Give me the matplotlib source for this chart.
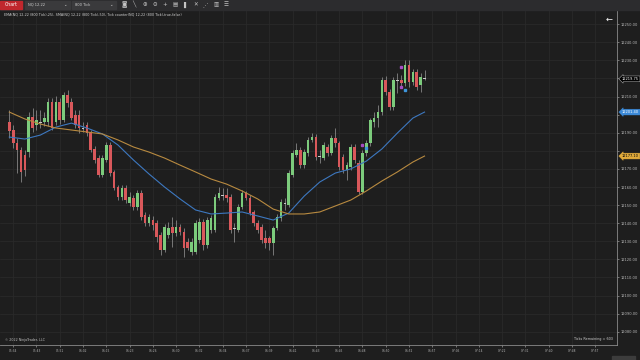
import numpy as np
import matplotlib.pyplot as plt
from matplotlib.patches import Rectangle

# NQ 12-22, 800 tick bars
opens = [12196, 12191.5, 12184.25, 12180.5, 12177.75, 12179.25, 12198.75, 12194.25, 12195.5, 12196,
         12196, 12207, 12196, 12207, 12197, 12210.75, 12207, 12199.75, 12199.75, 12192.5,
         12194.25, 12190.5, 12181, 12176, 12166.5, 12175, 12183.25, 12168.25, 12160, 12154.5,
         12159.5, 12151.25, 12154, 12149, 12156.75, 12144.5, 12140, 12141.75, 12140, 12133.5,
         12125.25, 12133.5, 12138, 12134.5, 12138, 12135, 12129.5, 12124, 12124, 12130.75,
         12140.75, 12128, 12136.25, 12136.25, 12154, 12155.25, 12155.5, 12154.5, 12137, 12136.25,
         12149, 12156.75, 12154, 12146.25, 12140, 12138, 12131.75, 12131.75, 12129, 12137.25,
         12142.75, 12151, 12150, 12166.5, 12177.75, 12180.5, 12172, 12178.75, 12186, 12187.5,
         12177, 12176, 12182, 12178.75, 12187, 12184.25, 12176.5, 12169.5, 12171, 12182,
         12173.25, 12157.25, 12178.75, 12184.25, 12196, 12198, 12201.5, 12219, 12212.5, 12204.25,
         12219, 12219, 12217.5, 12227.5, 12218, 12223.5, 12216.25, 12219.75]
closes = [12191, 12184.25, 12180.5, 12168.25, 12169.5, 12198.75, 12192.5, 12197, 12195.5, 12198,
          12207, 12192.5, 12207, 12197, 12210.75, 12206.5, 12198, 12194.25, 12192.5, 12192.5,
          12189.75, 12180.5, 12175, 12166.5, 12176, 12183.25, 12167.75, 12159.5, 12154.5, 12159.5,
          12152.75, 12154.5, 12149, 12156.75, 12143.5, 12140, 12143.5, 12139, 12132.5, 12125.25,
          12138, 12137.25, 12134.5, 12138, 12135, 12126.25, 12126.25, 12129.5, 12140, 12140.75,
          12128, 12141.75, 12142.75, 12154.5, 12156.75, 12155.25, 12154, 12136.25, 12137, 12149,
          12156.75, 12154, 12145.5, 12140, 12136.25, 12130.75, 12129, 12129, 12137.25, 12143.5,
          12151.75, 12151, 12167.75, 12178.75, 12180.5, 12172, 12179.25, 12186, 12187.5, 12176.5,
          12177, 12183.25, 12178.75, 12187, 12184.25, 12171, 12169.5, 12172, 12182, 12175,
          12157.25, 12178.75, 12184.25, 12197, 12198, 12201.5, 12219, 12212.5, 12204.25, 12219,
          12219, 12217.5, 12227.5, 12218, 12223.5, 12215.25, 12220.75, 12219.75]
highs = [12202.5, 12194.25, 12187, 12182, 12180.5, 12201.5, 12203.5, 12202.5, 12202.5, 12201.5,
         12209.25, 12209.25, 12210.25, 12209.25, 12212.5, 12213.5, 12209.25, 12202.5, 12202.5, 12196,
         12196, 12191.5, 12182.5, 12177.75, 12177.75, 12184.75, 12184.75, 12169.5, 12161, 12161,
         12161, 12157.25, 12155.5, 12158.25, 12158.25, 12146.25, 12145, 12144, 12141.75, 12135,
         12139.5, 12140.75, 12143.5, 12141.75, 12139.5, 12137.25, 12131.75, 12131.75, 12141.75, 12142.75,
         12142.25, 12143.5, 12144.5, 12156, 12160, 12159.5, 12159.5, 12156, 12140, 12150.5,
         12158.25, 12157.75, 12155.5, 12147.25, 12141.75, 12139.5, 12136.25, 12133, 12138.5, 12145,
         12153.5, 12154, 12169.5, 12180.5, 12184.25, 12182, 12181, 12187.5, 12189.75, 12189.25,
         12180.5, 12184.75, 12183.75, 12188.75, 12192.5, 12185.5, 12178.25, 12173.75, 12183.75, 12183.75,
         12175, 12180.5, 12186, 12198, 12201.5, 12205.25, 12220.75, 12221.25, 12214, 12220.75,
         12223, 12222, 12230.25, 12230.25, 12225.25, 12225.25, 12223, 12224.5]
lows = [12187, 12181.5, 12167.75, 12162.75, 12166, 12176.5, 12190.5, 12191.5, 12192.5, 12193.75,
        12193.75, 12191.5, 12194.25, 12194.75, 12196, 12204.25, 12197, 12192.5, 12189.75, 12190.5,
        12188.25, 12179.25, 12173.25, 12165.5, 12165.5, 12173.75, 12166, 12158.25, 12152.75, 12152.75,
        12151.25, 12149.5, 12147.25, 12147.25, 12141.75, 12138.5, 12138.5, 12136.25, 12129.5, 12122.5,
        12124, 12131.75, 12126.75, 12133, 12133.5, 12121.25, 12125.25, 12122.5, 12123, 12129,
        12125.25, 12126.25, 12134.5, 12135, 12152.75, 12152.75, 12151.75, 12134.5, 12129.5, 12135,
        12147.75, 12152.75, 12144.5, 12138.5, 12134.5, 12129, 12126.25, 12125.25, 12122.5, 12136.25,
        12141.25, 12147.25, 12149, 12165.5, 12176.5, 12170.5, 12170.5, 12177, 12184.75, 12175,
        12173.25, 12175, 12177, 12177.75, 12182, 12169.5, 12167.75, 12163.75, 12169.5, 12173.25,
        12156, 12156, 12177, 12182.5, 12193, 12193, 12199.75, 12210.75, 12202.5, 12202.5,
        12212, 12214.75, 12215.75, 12215.25, 12216.25, 12213.5, 12212.5, 12219]

# indicator values read at every 4th bar
ma_bars = [0, 4, 8, 12, 16, 20, 24, 28, 32, 36, 40, 44, 48, 52, 56, 60, 64, 68, 72, 76,
           80, 84, 88, 92, 96, 100, 104, 107]
ema25 = [12187.6, 12186.5, 12188.7, 12193.1, 12195.3, 12192.6, 12189.3, 12183.2, 12174.9, 12167.2,
         12160.0, 12153.4, 12147.3, 12145.1, 12145.6, 12146.2, 12144.0, 12141.75, 12145.6, 12155.0,
         12162.75, 12167.7, 12170.0, 12174.3, 12181.0, 12189.8, 12198.1, 12201.4]
sma50 = [12201.4, 12197.6, 12194.8, 12192.6, 12191.5, 12190.4, 12189.3, 12186.0, 12182.1, 12179.3,
         12176.0, 12172.1, 12168.3, 12164.4, 12161.6, 12157.8, 12153.4, 12147.8, 12145.1, 12145.1,
         12146.2, 12149.5, 12152.8, 12157.8, 12163.3, 12168.3, 12173.8, 12177.1]

# tick counter markers (bar, price)
purple_marks = [(91, 12183.0), (101, 12226.5), (101, 12215.0)]
blue_marks = [(92, 12181.5), (102, 12213.5)]

time_labels = ['05:34', '05:43', '05:51', '06:02', '06:15', '06:23', '06:26', '06:30', '06:32',
               '06:34', '06:37', '06:39', '06:41', '06:43', '06:45', '06:48', '06:50', '06:52',
               '06:57', '07:05', '07:14', '07:22', '07:31', '07:40', '07:48', '07:57']
price_ticks = [12250, 12240, 12230, 12220, 12210, 12200, 12190, 12180, 12170, 12160,
               12150, 12140, 12130, 12120, 12110, 12100, 12090, 12080]

BG = '#1e1e1e'
GREEN = '#7ccb7c'
RED = '#d9585b'
GRAY = '#c8c8c8'

fig = plt.figure(figsize=(6.4, 3.6), dpi=100, facecolor=BG)
ax = fig.add_axes([0, 15 / 360, 617 / 640, 335 / 360])
ax.set_facecolor(BG)

o = np.array(opens)
c = np.array(closes)
x = np.arange(len(o))
cols = np.where(c > o, GREEN, np.where(c < o, RED, GRAY))
body = np.maximum(np.abs(c - o), 0.7)
bottom = np.minimum(o, c) - (body - np.abs(c - o)) / 2

ax.vlines(x, lows, highs, colors='#9a9a9a', lw=0.5, zorder=2)
ax.bar(x, body, bottom=bottom, width=0.68, color=cols, linewidth=0, zorder=3)

ax.plot(ma_bars, ema25, color='#3d78c0', lw=0.8, zorder=4)
ax.plot(ma_bars, sma50, color='#b88a40', lw=0.8, zorder=4)

for b, p in purple_marks:
    ax.plot(b, p, marker='s', ms=1.8, color='#a64cc4', zorder=5)
for b, p in blue_marks:
    ax.plot(b, p, marker='s', ms=1.8, color='#3f96dc', zorder=5)

# right-axis tags: (value, face, text colour)
tags = [(closes[-1], 'black', 'white'), (ema25[-1], '#3c8ad8', 'white'),
        (sma50[-1], '#e3ac3c', 'black')]

ax.set_xlim(-2.4, 156.6)
ax.set_ylim(12072.7, 12257.8)
ax.set_xticks(np.arange(1, 152, 6))
ax.set_xticklabels(time_labels)
ax.set_yticks(price_ticks)
# labels sitting under a tag are hidden by it in the reference
ax.set_yticklabels(['' if min(abs(p - t[0]) for t in tags) < 3.5 else '%.2f' % p
                    for p in price_ticks])
ax.yaxis.tick_right()
ax.tick_params(axis='y', labelsize=2.6, colors='#b8b8b8', length=1.5, width=0.4, pad=1)
ax.tick_params(axis='x', labelsize=2.1, colors='#b8b8b8', length=1.5, width=0.4, pad=1.5)
ax.grid(color='#2b2b2b', lw=0.5, zorder=0)
for s in ['top', 'left']:
    ax.spines[s].set_visible(False)
for s in ['right', 'bottom']:
    ax.spines[s].set_color('#8a8a8a')
    ax.spines[s].set_linewidth(0.6)

tr = ax.get_yaxis_transform()
for val, fc, tc in tags:
    ax.text(1.008, val, '%.2f' % val, transform=tr, fontsize=2.6, color=tc,
            va='center', ha='left', clip_on=False, zorder=6,
            bbox=dict(boxstyle='larrow,pad=0.25', fc=fc,
                      ec='#d0d0d0' if fc == 'black' else fc, lw=0.3))

# toolbar
fig.patches.append(Rectangle((0, 1 - 10 / 360), 1, 10 / 360, transform=fig.transFigure,
                             color='#2c2c2e', zorder=0))
fig.patches.append(Rectangle((0, 1 - 9 / 360), 22 / 640, 8 / 360, transform=fig.transFigure,
                             color='#c0272d', zorder=1))
fig.text(11 / 640, 1 - 5 / 360, 'Chart', fontsize=3.4, color='white', ha='center', va='center')
for x0, w, label in [(25, 45, 'NQ 12-22'), (72, 44, '800 Tick')]:
    fig.patches.append(Rectangle((x0 / 640, 1 - 9 / 360), w / 640, 8 / 360,
                                 transform=fig.transFigure, color='#3a3a3c', zorder=1))
    fig.text((x0 + 3) / 640, 1 - 5 / 360, label, fontsize=2.6, color='#cfcfcf', va='center')
    fig.text((x0 + w - 5) / 640, 1 - 5 / 360, '\u2304', fontsize=3, color='#cfcfcf',
             va='center', ha='center')
icons = ['\u25d9', '\u2572', '\u2295', '\u2296', '+', '\u25a4', '\u258c', '\u2715', '\u22f0',
         '\u25a5', '\u2630']
for k, g in enumerate(icons):
    fig.text((124 + k * 10.2) / 640, 1 - 5 / 360, g, fontsize=4, color='#c4c4c4',
             ha='center', va='center')

fig.text(4 / 640, 1 - 15 / 360,
         'EMA(NQ 12-22 (800 Tick),25), SMA(NQ 12-22 (800 Tick),50), '
         'Tick counter(NQ 12-22 (800 Tick),true,false)',
         fontsize=2.4, color='#d0d0d0', va='center')
fig.text(609 / 640, 1 - 19 / 360, '\u2190', fontsize=6, color='white', ha='center', va='center')
fig.text(5 / 640, 1 - 340 / 360, '\u00a9 2022 NinjaTrader, LLC', fontsize=2.3, color='#c0c0c0',
         va='center')
fig.text(613 / 640, 1 - 339 / 360, 'Ticks Remaining = 603', fontsize=2.4, color='#d0d0d0',
         ha='right', va='center')

# scrollbar
fig.patches.append(Rectangle((612 / 640, 0), 23 / 640, 4 / 360, transform=fig.transFigure,
                             color='#3c3c3c', zorder=1))

fig.savefig('out.png', dpi=100, facecolor=BG)
